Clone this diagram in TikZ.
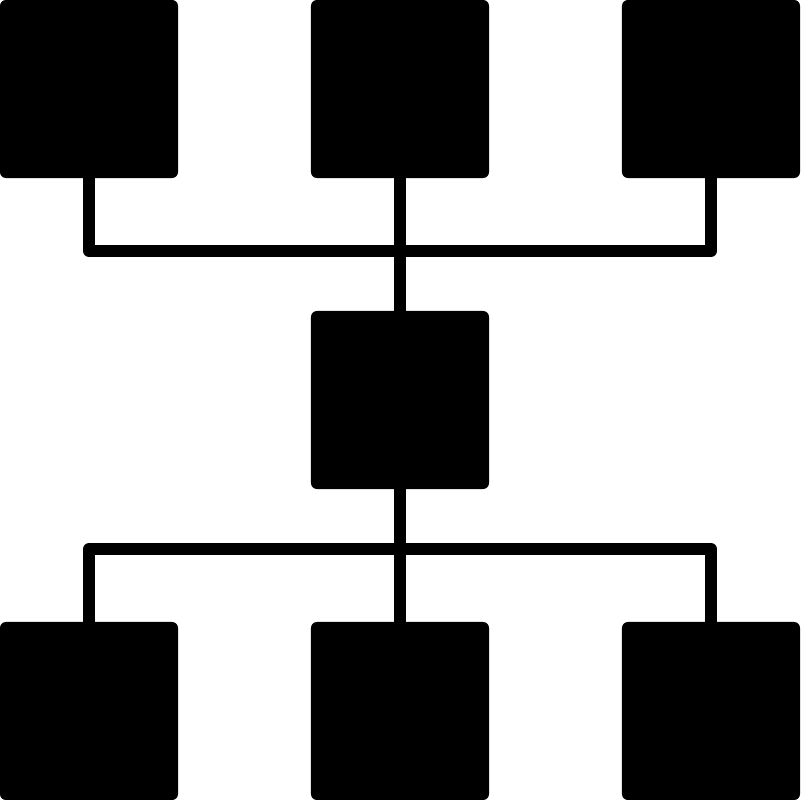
\documentclass[tikz,border=0pt]{standalone}
\begin{document}
\begin{tikzpicture}[x=0.025cm,y=-0.025cm,
  box/.style={fill=black,draw=none,rounded corners=0.15cm,minimum width=4.45cm,minimum height=4.45cm,inner sep=0pt},
  conn/.style={draw=black,line width=0.3cm,line join=round}]
\fill[white] (0,0) rectangle (800,800);
\useasboundingbox (0,0) rectangle (800,800);
\node[box] (t1) at (89,89) {};
\node[box] (t2) at (400,89) {};
\node[box] (t3) at (711,89) {};
\node[box] (m) at (400,400) {};
\node[box] (b1) at (89,711) {};
\node[box] (b2) at (400,711) {};
\node[box] (b3) at (711,711) {};
\coordinate (tl) at (89,251);
\coordinate (tr) at (711,251);
\coordinate (bl) at (89,549);
\coordinate (br) at (711,549);
\draw[conn] ([yshift=0.1cm]t1.south) -- (tl) -- (tr) -- ([yshift=0.1cm]t3.south);
\draw[conn] ([yshift=0.1cm]t2.south) -- ([yshift=-0.1cm]m.north);
\draw[conn] ([yshift=-0.1cm]b1.north) -- (bl) -- (br) -- ([yshift=-0.1cm]b3.north);
\draw[conn] ([yshift=0.1cm]m.south) -- ([yshift=-0.1cm]b2.north);
\end{tikzpicture}
\end{document}
